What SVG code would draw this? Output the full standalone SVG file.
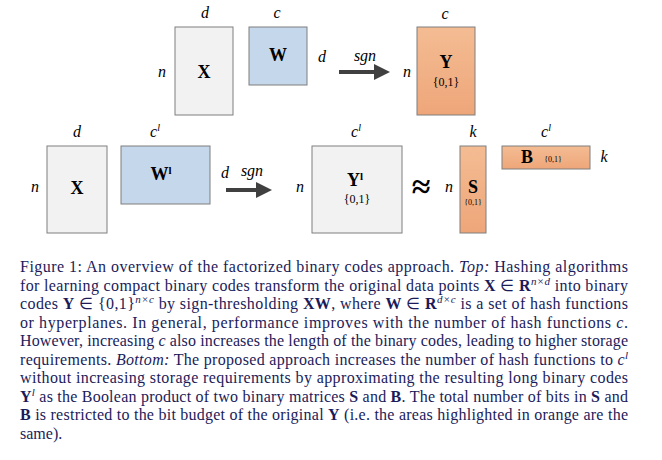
<svg xmlns="http://www.w3.org/2000/svg" width="662" height="460" viewBox="0 0 662 460">
<style>
.m{stroke:#7f7f7f;stroke-width:1}
.g{fill:#f2f2f2}.b{fill:#c5d7ea}
text{font-family:"Liberation Serif",Tinos,"Times New Roman","Nimbus Roman",serif;fill:#000}
.l{font-size:16px;font-style:italic}
.big{font-size:18px;font-weight:bold}
.sm{font-size:12px}
.cap{font-size:16px;fill:#1b1b5a}
</style>
<defs>
<marker id="ah" markerWidth="4" markerHeight="4" refX="2" refY="2" orient="auto" markerUnits="strokeWidth"><path d="M0,0L4,2L0,4z" fill="#404040"/></marker>
<linearGradient id="og" x1="0" y1="0" x2="0" y2="1"><stop offset="0" stop-color="#f4bc93"/><stop offset="1" stop-color="#eea679"/></linearGradient>
</defs>
<rect width="662" height="460" fill="#fff"/>
<g id="top">
<g id="X1"><rect class="m g" x="175" y="27" width="58" height="88"/><text class="big" x="204" y="78" text-anchor="middle">X</text><text class="l" x="205" y="18" text-anchor="middle">d</text><text class="l" x="162" y="77" text-anchor="middle">n</text></g>
<g id="W1"><rect class="m b" x="249" y="27" width="58" height="58"/><text class="big" x="278" y="61" text-anchor="middle">W</text><text class="l" x="277" y="18" text-anchor="middle">c</text><text class="l" x="322" y="62" text-anchor="middle">d</text></g>
<g id="Y1"><rect class="m" fill="url(#og)" x="417" y="27" width="58" height="88"/><text class="big" x="446" y="68" text-anchor="middle">Y</text><text class="sm" x="446" y="86" text-anchor="middle">{0,1}</text><text class="l" x="445" y="19" text-anchor="middle">c</text><text class="l" x="407" y="77" text-anchor="middle">n</text></g>
</g>
<g id="bottom">
<g id="X2"><rect class="m g" x="47" y="146" width="60" height="87"/><text class="big" x="77" y="194" text-anchor="middle">X</text><text class="l" x="77" y="137" text-anchor="middle">d</text><text class="l" x="35" y="192" text-anchor="middle">n</text></g>
<g id="W2"><rect class="m b" x="121" y="146" width="89" height="58"/><text class="big" x="161" y="180" text-anchor="middle">W<tspan font-size="11" dy="-6">l</tspan></text><text class="l" x="155" y="137" text-anchor="middle">c<tspan font-size="10" dy="-6">l</tspan></text><text class="l" x="225" y="178" text-anchor="middle">d</text></g>
<g id="Y2"><rect class="m g" x="312" y="146" width="90" height="87"/><text class="big" x="355" y="186" text-anchor="middle">Y<tspan font-size="11" dy="-6">l</tspan></text><text class="sm" x="357" y="203" text-anchor="middle">{0,1}</text><text class="l" x="356" y="137" text-anchor="middle">c<tspan font-size="10" dy="-6">l</tspan></text><text class="l" x="300" y="192" text-anchor="middle">n</text></g>
<text x="421" y="198" font-size="34" font-weight="bold" text-anchor="middle">≈</text>
<g id="S"><rect class="m" fill="url(#og)" x="460" y="146" width="26" height="87"/><text class="big" x="473" y="193" text-anchor="middle">S</text><text font-size="8" x="473" y="205" text-anchor="middle">{0,1}</text><text class="l" x="473" y="137" text-anchor="middle">k</text><text class="l" x="449" y="192" text-anchor="middle">n</text></g>
<g id="B"><rect class="m" fill="url(#og)" x="502" y="146" width="88" height="23"/><text class="big" x="527" y="163" text-anchor="middle">B</text><text font-size="8" x="553" y="162" text-anchor="middle">{0,1}</text><text class="l" x="546" y="137" text-anchor="middle">c<tspan font-size="10" dy="-6">l</tspan></text><text class="l" x="604" y="162" text-anchor="middle">k</text></g>
</g>
<g id="connectors" stroke="#404040" stroke-width="4">
<line x1="339" y1="72" x2="382" y2="72" marker-end="url(#ah)"/>
<line x1="226" y1="190" x2="264" y2="190" marker-end="url(#ah)"/>
</g>
<text class="l" x="365" y="61" text-anchor="middle">sgn</text>
<text class="l" x="252" y="176" text-anchor="middle">sgn</text>
<g id="caption">
<text class="cap" x="20" y="272" textLength="608" lengthAdjust="spacing">Figure 1: An overview of the factorized binary codes approach. <tspan font-style="italic">Top:</tspan> Hashing algorithms</text>
<text class="cap" x="20" y="290.5" textLength="608" lengthAdjust="spacing">for learning compact binary codes transform the original data points <tspan font-weight="bold">X</tspan> ∈ <tspan font-weight="bold">R</tspan><tspan font-size="11" dy="-6" font-style="italic">n×d</tspan><tspan dy="6"> into binary</tspan></text>
<text class="cap" x="20" y="309" textLength="608" lengthAdjust="spacing">codes <tspan font-weight="bold">Y</tspan> ∈ {0,1}<tspan font-size="11" dy="-6" font-style="italic">n×c</tspan><tspan dy="6"> by sign-thresholding </tspan><tspan font-weight="bold">XW</tspan>, where <tspan font-weight="bold">W</tspan> ∈ <tspan font-weight="bold">R</tspan><tspan font-size="11" dy="-6" font-style="italic">d×c</tspan><tspan dy="6"> is a set of hash functions</tspan></text>
<text class="cap" x="20" y="327.5" textLength="608" lengthAdjust="spacing">or hyperplanes.  In general, performance improves with the number of hash functions <tspan font-style="italic">c</tspan>.</text>
<text class="cap" x="20" y="346" textLength="608" lengthAdjust="spacing">However, increasing <tspan font-style="italic">c</tspan> also increases the length of the binary codes, leading to higher storage</text>
<text class="cap" x="20" y="364.5" textLength="608" lengthAdjust="spacing">requirements. <tspan font-style="italic">Bottom:</tspan> The proposed approach increases the number of hash functions to <tspan font-style="italic">c</tspan><tspan font-size="11" dy="-6" font-style="italic">l</tspan></text>
<text class="cap" x="20" y="383" textLength="608" lengthAdjust="spacing">without increasing storage requirements by approximating the resulting long binary codes</text>
<text class="cap" x="20" y="401.5" textLength="608" lengthAdjust="spacing"><tspan font-weight="bold">Y</tspan><tspan font-size="11" dy="-6" font-style="italic">l</tspan><tspan dy="6"> as the Boolean product of two binary matrices </tspan><tspan font-weight="bold">S</tspan> and <tspan font-weight="bold">B</tspan>. The total number of bits in <tspan font-weight="bold">S</tspan> and</text>
<text class="cap" x="20" y="420" textLength="608" lengthAdjust="spacing"><tspan font-weight="bold">B</tspan> is restricted to the bit budget of the original <tspan font-weight="bold">Y</tspan> (i.e. the areas highlighted in orange are the</text>
<text class="cap" x="20" y="438.5">same).</text>
</g>
</svg>
